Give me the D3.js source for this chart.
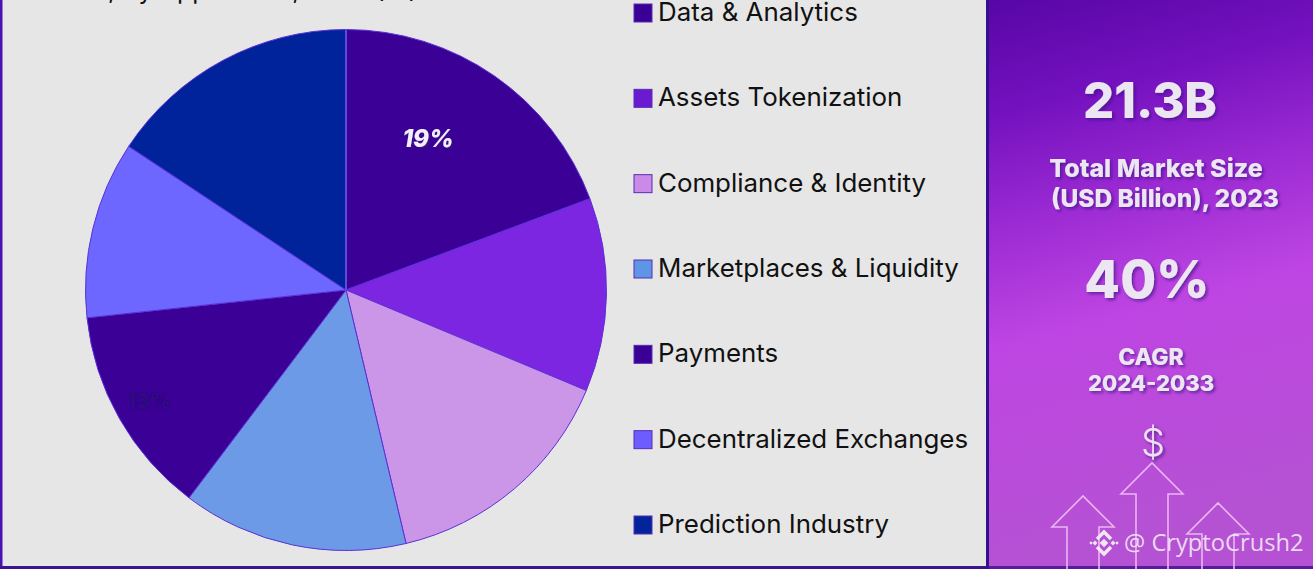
<!DOCTYPE html>
<html>
<head>
<meta charset="utf-8">
<script src="https://cdn.jsdelivr.net/npm/d3@7"></script>
<style>
    html, body { margin: 0; padding: 0; background: #e6e6e6; overflow: hidden; }
    svg { display: block; }
    text { font-family: Inter, "Noto Sans", sans-serif; }
</style>
</head>
<body>
<div id="chart"></div>
<script>
var categories = ["Data & Analytics", "Assets Tokenization", "Compliance & Identity", "Marketplaces & Liquidity", "Payments", "Decentralized Exchanges", "Prediction Industry"];
var shares = [19.3, 12, 15, 14, 13, 11, 15.7];
var sliceLabels = ["19%", "", "", "", "13%", "", ""];
var sliceColors = ["#3a0095", "#7d26e2", "#cb95e8", "#6d9ae6", "#3a0095", "#6d66ff", "#02249a"];
var swatchColors = ["#3a0095", "#6a1bd0", "#c98ae8", "#5f95e6", "#3a0095", "#6d5cff", "#02249a"];
var panelLines = [
    {text: "21.3B", x: 1150, y: 118, size: 49},
    {text: "Total Market Size", x: 1156, y: 177, size: 25},
    {text: "(USD Billion), 2023", x: 1165, y: 207, size: 24.5},
    {text: "40%", x: 1147, y: 298, size: 52},
    {text: "CAGR", x: 1151, y: 365, size: 23},
    {text: "2024-2033", x: 1151, y: 391, size: 22}
];
var arrowTips = [[1083, 496], [1152, 463], [1218, 503]];

var width = 1313, height = 569, radius = 260.5;
var svg = d3.select("#chart").append("svg")
    .attr("width", width)
    .attr("height", height);

var defs = svg.append("defs");
var grad = defs.append("linearGradient")
    .attr("id", "panelGrad")
    .attr("x1", "0").attr("y1", "0").attr("x2", "0.15").attr("y2", "1");
[[0, "#5706a6"], [0.2, "#7411bf"], [0.4, "#9c2bd4"], [0.6, "#be45e2"], [1, "#b552d3"]].forEach(function (s) {
    grad.append("stop").attr("offset", s[0]).attr("stop-color", s[1]);
});
var soft = defs.append("filter").attr("id", "soft");
soft.append("feGaussianBlur").attr("stdDeviation", 0.6);
var blur = defs.append("filter").attr("id", "blurText");
blur.append("feGaussianBlur").attr("stdDeviation", 1.3);
var shadow = defs.append("filter").attr("id", "textShadow")
    .attr("x", "-20%").attr("y", "-20%").attr("width", "140%").attr("height", "140%");
shadow.append("feDropShadow")
    .attr("dx", 2).attr("dy", 2).attr("stdDeviation", 1.5)
    .attr("flood-color", "#3a0a80").attr("flood-opacity", 0.65);

// frame
svg.append("rect").attr("width", width).attr("height", height).attr("fill", "#e6e6e6");
svg.append("rect").attr("width", 2.5).attr("height", height).attr("fill", "#4a12b0");
svg.append("rect").attr("x", 0).attr("y", 566).attr("width", 988).attr("height", 3).attr("fill", "#3d1490");

// cut off heading at the top edge
svg.append("text")
    .attr("x", 418).attr("y", -1)
    .attr("text-anchor", "end")
    .attr("font-size", 25)
    .attr("fill", "#111")
    .text("Market, By Application, 2023 (%)");

// pie
var pie = d3.pie().sort(null).value(function (d) { return d; });
var arc = d3.arc().innerRadius(0).outerRadius(radius);
var pieG = svg.append("g")
    .attr("transform", "translate(346,290)");

pieG.selectAll("path")
    .data(pie(shares))
    .enter().append("path")
    .attr("d", arc)
    .attr("fill", function (d, i) { return sliceColors[i]; })
    .attr("stroke", "#5b30d6")
    .attr("stroke-width", 1)
    .attr("filter", "url(#soft)");

// light seam where the pie starts
pieG.append("line")
    .attr("y2", -radius)
    .attr("stroke", "#6f63f0")
    .attr("stroke-width", 1.2);

pieG.selectAll(".sliceLabel")
    .data(pie(shares))
    .enter().append("text")
    .attr("class", "sliceLabel")
    .text(function (d, i) { return sliceLabels[i]; })
    .attr("transform", function (d, i) {
        var r = i === 0 ? 172 : 226;
        var c = d3.arc().innerRadius(r).outerRadius(r).centroid(d);
        // the 19% sits left of the slice's middle in the picture
        return "translate(" + (i === 0 ? c[0] - 16 : c[0]) + "," + (i === 0 ? c[1] - 10 : c[1]) + ")";
    })
    .attr("dy", "0.35em")
    .attr("text-anchor", "middle")
    .attr("font-size", function (d, i) { return i === 0 ? 24 : 20; })
    .attr("font-weight", 800)
    .attr("font-style", function (d, i) { return i === 0 ? "italic" : "normal"; })
    .attr("fill", function (d, i) { return i === 0 ? "#f2eefc" : "#2a0a78"; })
    .attr("filter", function (d, i) { return i === 0 ? "url(#textShadow)" : "url(#blurText)"; });

// legend
var legendY = d3.scalePoint()
    .domain(categories)
    .range([13, 525]);

var legend = svg.selectAll(".legend")
    .data(categories)
    .enter().append("g")
    .attr("class", "legend")
    .attr("transform", function (d) { return "translate(634," + legendY(d) + ")"; });

legend.append("rect")
    .attr("x", 0).attr("y", -9)
    .attr("width", 18).attr("height", 18)
    .attr("fill", function (d, i) { return swatchColors[i]; })
    .attr("stroke", "#5a2bb8")
    .attr("stroke-width", 1);

legend.append("text")
    .attr("x", 24).attr("y", 8)
    .attr("font-size", 25.9)
    .attr("fill", "#111")
    .text(function (d) { return d; });

// right panel
svg.append("rect").attr("x", 986).attr("width", 3.5).attr("height", height).attr("fill", "#35108c");
svg.append("rect").attr("x", 989).attr("width", width - 989).attr("height", height).attr("fill", "url(#panelGrad)");
svg.append("rect").attr("x", 989).attr("y", 566).attr("width", width - 989).attr("height", 3).attr("fill", "#5a1aa0");

svg.selectAll(".panelText")
    .data(panelLines)
    .enter().append("text")
    .attr("class", "panelText")
    .attr("x", function (d) { return d.x; })
    .attr("y", function (d) { return d.y; })
    .attr("text-anchor", "middle")
    .attr("font-size", function (d) { return d.size; })
    .attr("font-weight", 800)
    .attr("fill", "#ece6f2")
    .attr("filter", "url(#textShadow)")
    .text(function (d) { return d.text; });

svg.append("text")
    .attr("x", 1153).attr("y", 456)
    .attr("text-anchor", "middle")
    .attr("font-size", 38)
    .attr("font-weight", 300)
    .attr("fill", "#efe0f4")
    .attr("filter", "url(#textShadow)")
    .text("$");

// rising arrows
var arrowLine = d3.line();
svg.selectAll(".arrow")
    .data(arrowTips)
    .enter().append("path")
    .attr("class", "arrow")
    .attr("d", function (d) {
        var x = d[0], y = d[1];
        return arrowLine([[x - 16, height], [x - 16, y + 31], [x - 31, y + 31], [x, y], [x + 31, y + 31], [x + 16, y + 31], [x + 16, height]]);
    })
    .attr("fill", "none")
    .attr("stroke", "#eab6f0")
    .attr("stroke-width", 1.6);

// watermark
var mark = svg.append("g").attr("transform", "translate(1104,543)");
mark.append("path")
    .attr("d", "M-7,-4L0,-11L7,-4M-7,4L0,11L7,4")
    .attr("fill", "none")
    .attr("stroke", "#f2e6f6")
    .attr("stroke-width", 3.4);
mark.selectAll("rect")
    .data([[0, 0, 6], [-9, 0, 3.5], [9, 0, 3.5], [-13, 0, 2.5], [13, 0, 2.5]])
    .enter().append("rect")
    .attr("fill", "#f2e6f6")
    .attr("x", function (d) { return d[0] - d[2] / 2; })
    .attr("y", function (d) { return d[1] - d[2] / 2; })
    .attr("width", function (d) { return d[2]; })
    .attr("height", function (d) { return d[2]; })
    .attr("transform", function (d) { return "rotate(45," + d[0] + "," + d[1] + ")"; });

svg.append("text")
    .attr("x", 1124).attr("y", 551)
    .attr("font-size", 23.7)
    .attr("fill", "#f2e6f6")
    .attr("fill-opacity", 0.92)
    .style("font-family", "'Open Sans', sans-serif")
    .text("@ CryptoCrush2");
</script>
</body>
</html>
